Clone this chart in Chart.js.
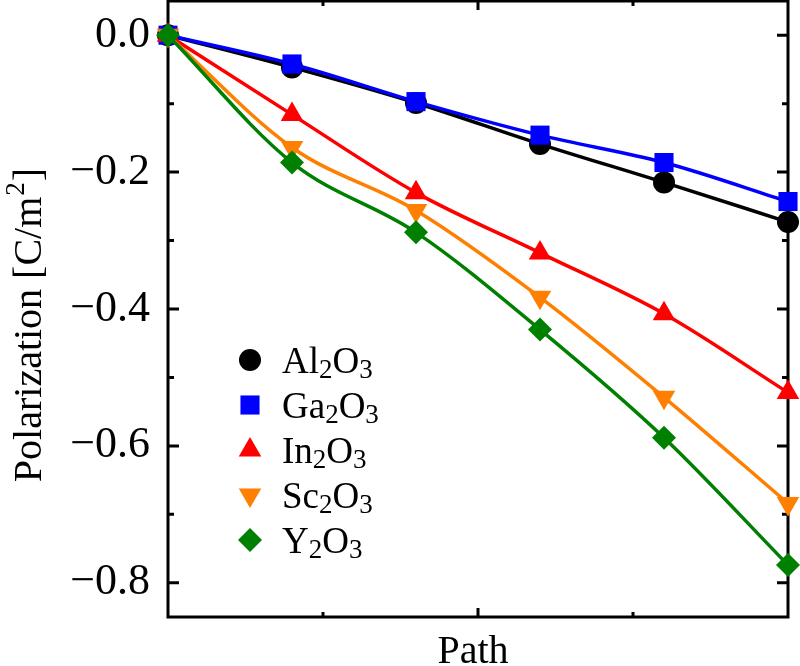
<!DOCTYPE html>
<html>
<head>
<meta charset="utf-8">
<script src="https://cdn.jsdelivr.net/npm/chart.js@4/dist/chart.umd.min.js"></script>
<style>
html,body{margin:0;padding:0;background:#fff;}
#wrap{width:800px;height:666px;}
</style>
</head>
<body>
<div id="wrap"><canvas id="c" width="800" height="666"></canvas></div>
<script>
// ---- data ----
const pathPositions = [0, 0.2, 0.4, 0.6, 0.8, 1.0];
const seriesNames = ['Al2O3', 'Ga2O3', 'In2O3', 'Sc2O3', 'Y2O3'];
const al2o3 = [0, -0.047, -0.099, -0.159, -0.215, -0.273];
const ga2o3 = [0, -0.042, -0.097, -0.146, -0.186, -0.243];
const in2o3 = [0, -0.116, -0.230, -0.318, -0.407, -0.522];
const sc2o3 = [0, -0.164, -0.256, -0.383, -0.529, -0.684];
const y2o3  = [0, -0.186, -0.288, -0.430, -0.588, -0.774];
const yTickValues = [0, -0.2, -0.4, -0.6, -0.8];
const yMinorTickValues = [-0.1, -0.3, -0.5, -0.7];
const xMajorTickValues = [0.5];
const xMinorTickValues = [0.25, 0.75];
const yAxisTitle = ['Polarization [C/m', '2', ']'];
const xAxisTitle = 'Path';

// ---- styles ----
const colors = ['#000000', '#0000ff', '#ff0000', '#ff7f00', '#008000'];
const styles = [
  {pointStyle: 'circle', radius: 11, rotation: 0},
  {pointStyle: 'rect', radius: 13.5, rotation: 0},
  {pointStyle: 'triangle', radius: 13, rotation: 0},
  {pointStyle: 'triangle', radius: 13, rotation: 180},
  {pointStyle: 'rectRot', radius: 12, rotation: 0}
];
const allSeries = [al2o3, ga2o3, in2o3, sc2o3, y2o3];
const SERIF = '"Liberation Serif", "DejaVu Serif", serif';

const datasets = allSeries.map((vals, i) => ({
  label: seriesNames[i],
  data: pathPositions.map((x, j) => ({x: x, y: vals[j]})),
  borderColor: colors[i],
  backgroundColor: colors[i],
  pointBackgroundColor: colors[i],
  pointBorderColor: colors[i],
  pointBorderWidth: 0,
  borderWidth: 3.5,
  pointStyle: styles[i].pointStyle,
  pointRadius: styles[i].radius,
  pointRotation: styles[i].rotation,
  cubicInterpolationMode: 'monotone',
  fill: false,
  clip: false,
  order: allSeries.length - 1 - i
}));

function drawMarker(ctx, style, color, x, y) {
  ctx.save();
  ctx.fillStyle = color;
  ctx.beginPath();
  const r = style.radius;
  if (style.pointStyle === 'circle') {
    ctx.arc(x, y, r, 0, Math.PI * 2);
  } else if (style.pointStyle === 'rect') {
    const s = r * Math.SQRT1_2;
    ctx.rect(x - s, y - s, 2 * s, 2 * s);
  } else if (style.pointStyle === 'triangle') {
    const dir = style.rotation === 180 ? -1 : 1;
    for (let k = 0; k < 3; k++) {
      const a = -Math.PI / 2 + k * 2 * Math.PI / 3;
      const px = x + r * Math.cos(a);
      const py = y + dir * r * Math.sin(a);
      if (k === 0) ctx.moveTo(px, py); else ctx.lineTo(px, py);
    }
    ctx.closePath();
  } else if (style.pointStyle === 'rectRot') {
    ctx.moveTo(x, y - r); ctx.lineTo(x + r, y); ctx.lineTo(x, y + r); ctx.lineTo(x - r, y);
    ctx.closePath();
  }
  ctx.fill();
  ctx.restore();
}

function drawChemical(ctx, name, x, y, size) {
  let cx = x;
  for (const ch of name) {
    if (/[0-9]/.test(ch)) {
      ctx.font = Math.round(size * 0.72) + 'px ' + SERIF;
      ctx.fillText(ch, cx, y + size * 0.14);
      cx += ctx.measureText(ch).width;
    } else {
      ctx.font = size + 'px ' + SERIF;
      ctx.fillText(ch, cx, y);
      cx += ctx.measureText(ch).width;
    }
  }
}

const framePlugin = {
  id: 'frame',
  beforeDatasetsDraw(chart) {
    const {ctx, chartArea: a, scales} = chart;
    ctx.save();
    ctx.strokeStyle = '#000';
    ctx.lineWidth = 3;
    ctx.lineCap = 'butt';
    ctx.strokeRect(a.left, a.top, a.right - a.left, a.bottom - a.top);
    ctx.beginPath();
    yTickValues.forEach(v => {
      const py = scales.y.getPixelForValue(v);
      ctx.moveTo(a.left, py); ctx.lineTo(a.left + 11, py);
      ctx.moveTo(a.right, py); ctx.lineTo(a.right - 11, py);
    });
    yMinorTickValues.forEach(v => {
      const py = scales.y.getPixelForValue(v);
      ctx.moveTo(a.left, py); ctx.lineTo(a.left + 6, py);
      ctx.moveTo(a.right, py); ctx.lineTo(a.right - 6, py);
    });
    xMajorTickValues.forEach(v => {
      const px = scales.x.getPixelForValue(v);
      ctx.moveTo(px, a.bottom); ctx.lineTo(px, a.bottom - 9);
      ctx.moveTo(px, a.top); ctx.lineTo(px, a.top + 9);
    });
    xMinorTickValues.forEach(v => {
      const px = scales.x.getPixelForValue(v);
      ctx.moveTo(px, a.bottom); ctx.lineTo(px, a.bottom - 5);
      ctx.moveTo(px, a.top); ctx.lineTo(px, a.top + 5);
    });
    ctx.stroke();
    ctx.restore();
  },
  afterDatasetsDraw(chart) {
    const {ctx, chartArea: a} = chart;
    // legend
    ctx.save();
    ctx.fillStyle = '#000';
    ctx.textBaseline = 'alphabetic';
    ctx.textAlign = 'left';
    const legendX = 250, legendY0 = 360, legendDy = 45;
    seriesNames.forEach((n, i) => {
      const ly = legendY0 + i * legendDy;
      drawMarker(ctx, styles[i], colors[i], legendX, ly);
      ctx.fillStyle = '#000';
      drawChemical(ctx, n, 282, ly + 13, 37);
    });
    // x title
    ctx.font = '40px ' + SERIF;
    ctx.textAlign = 'center';
    ctx.fillText(xAxisTitle, (a.left + a.right) / 2 - 5, 663);
    // y title
    ctx.translate(41, 325);
    ctx.rotate(-Math.PI / 2);
    const big = '40px ' + SERIF, small = '27px ' + SERIF;
    ctx.font = big; const w1 = ctx.measureText(yAxisTitle[0]).width;
    ctx.font = small; const w2 = ctx.measureText(yAxisTitle[1]).width + 2;
    ctx.font = big; const w3 = ctx.measureText(yAxisTitle[2]).width;
    let sx = -(w1 + w2 + w3) / 2;
    ctx.textAlign = 'left';
    ctx.font = big; ctx.fillText(yAxisTitle[0], sx, 0); sx += w1;
    ctx.font = small; ctx.fillText(yAxisTitle[1], sx + 1, -17); sx += w2;
    ctx.font = big; ctx.fillText(yAxisTitle[2], sx, 0);
    ctx.restore();
  }
};

new Chart(document.getElementById('c'), {
  type: 'line',
  data: {datasets: datasets},
  options: {
    responsive: false,
    animation: false,
    devicePixelRatio: 1,
    layout: {autoPadding: false, padding: {top: 1, right: 12, left: 0, bottom: 0}},
    plugins: {legend: {display: false}, tooltip: {enabled: false}},
    scales: {
      x: {
        type: 'linear', min: 0, max: 1,
        grid: {display: false, drawTicks: false},
        border: {display: false},
        ticks: {display: false},
        afterFit(s) { s.height = 49; s.paddingLeft = 0; s.paddingRight = 0; }
      },
      y: {
        type: 'linear', min: -0.85, max: 0.05,
        grid: {display: false, drawTicks: false},
        border: {display: false},
        afterBuildTicks(s) { s.ticks = yTickValues.map(v => ({value: v})); },
        ticks: {
          color: '#000',
          padding: 18,
          font: {family: SERIF, size: 44},
          callback: v => (v < -1e-9 ? '\u2212' : '') + Math.abs(v).toFixed(1)
        },
        afterFit(s) { s.width = 168; s.paddingTop = 0; s.paddingBottom = 0; }
      }
    }
  },
  plugins: [framePlugin]
});
</script>
</body>
</html>
